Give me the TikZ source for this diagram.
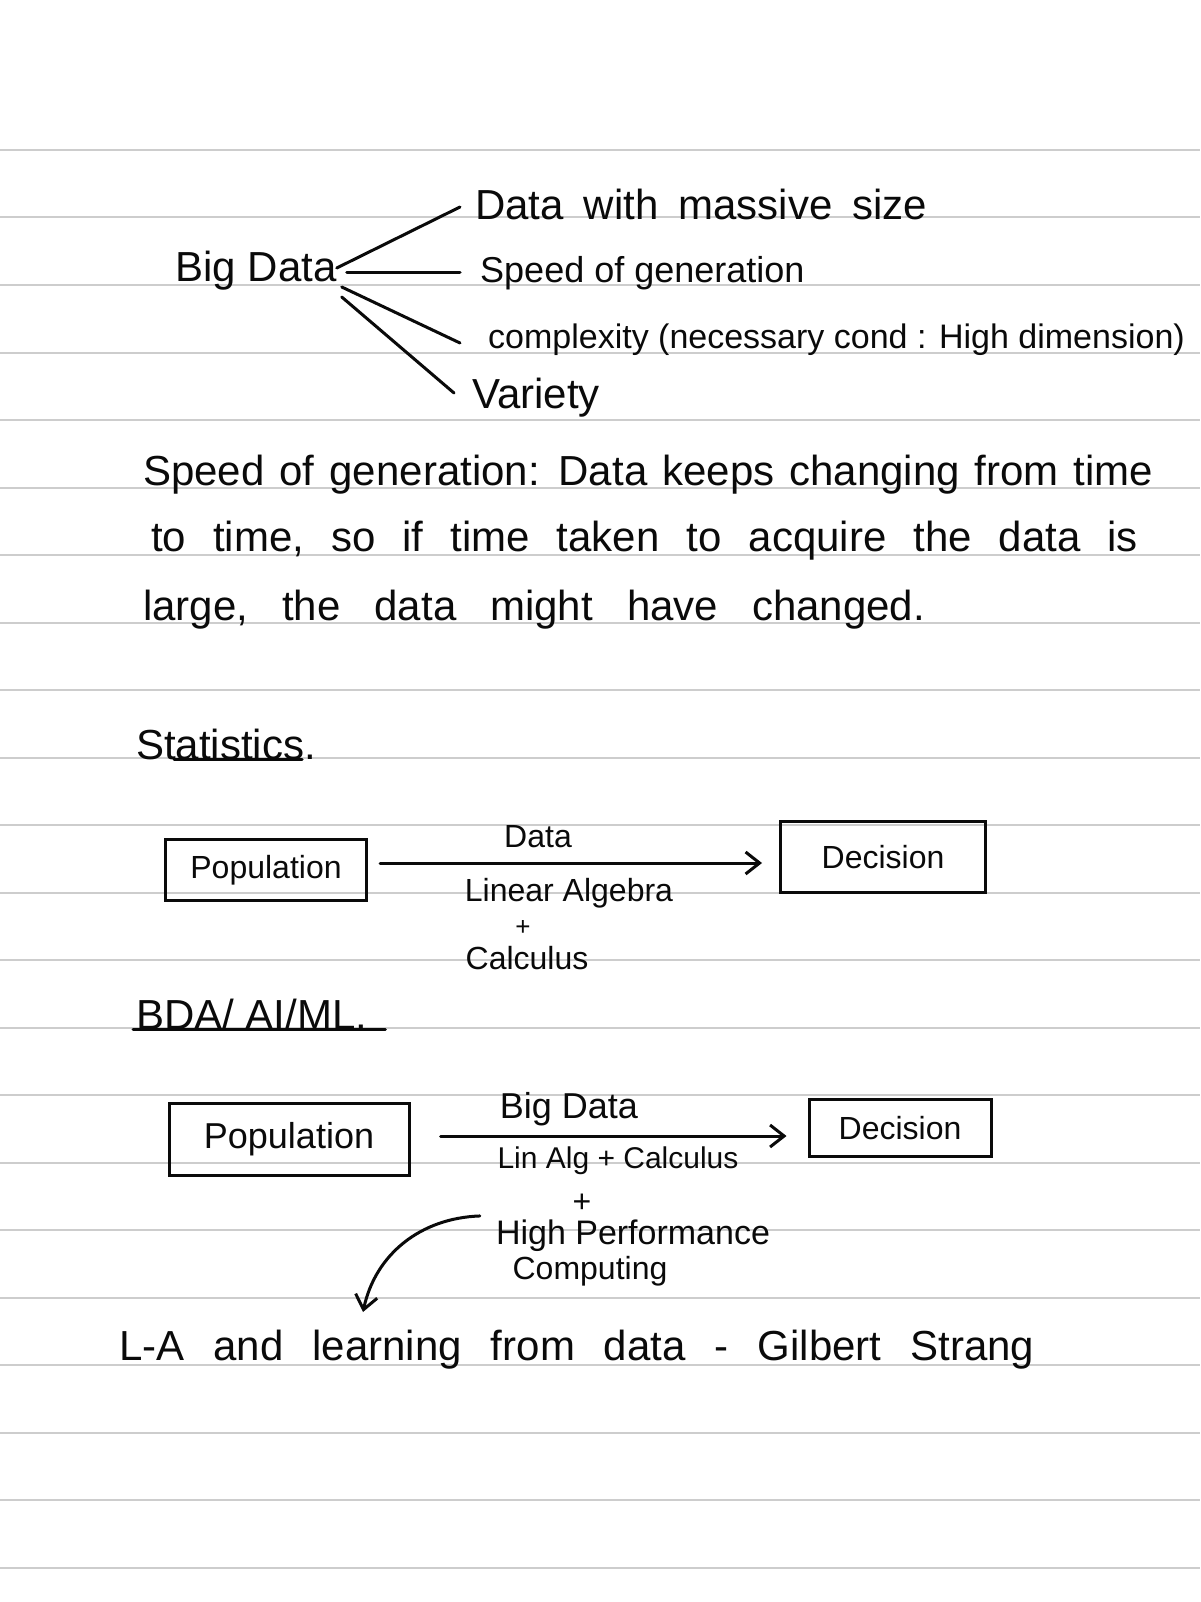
\documentclass[tikz,border=0pt]{standalone}
\usepackage{fontspec}
\setmainfont{Liberation Sans}
\usetikzlibrary{arrows.meta,positioning}
\definecolor{ruleline}{RGB}{205,205,205}
\definecolor{pen}{RGB}{10,10,10}
\tikzset{
    % Handwriting text styles
    hand/.style={font=\fontsize{42}{46}\selectfont, text=pen, inner sep=0pt, anchor=west},
    midhand/.style={font=\fontsize{32}{36}\selectfont, text=pen, inner sep=0pt},
    smallhand/.style={font=\fontsize{30}{34}\selectfont, text=pen, inner sep=0pt},
    % wider word gaps, as in the handwriting
    gaps/.style={execute at begin node={\spaceskip=#1\relax}},
    % Boxed terms
    box/.style={draw=pen, line width=3pt, inner sep=0pt, text=pen,
        font=\fontsize{32}{36}\selectfont},
}
\tikzset{
    % Pen strokes
    penline/.style={line width=3pt, pen, line cap=round},
    penarrow/.style={-{Straight Barb[length=14pt,width=22pt]}, line width=3pt, pen, line cap=round},
    ruling/.style={line width=2pt, ruleline},
}
\begin{document}
\begin{tikzpicture}[x=1pt,y=-1pt]
  \useasboundingbox (0,0) rectangle (1200,1602);
  \fill[white] (0,0) rectangle (1200,1602);
  % ruled paper
  \foreach \k in {0,...,21}{\draw[ruling] (0,150+67.5*\k) -- (1200,150+67.5*\k);}

  % Big Data tree
  \node[hand,anchor=center] (bd) at (256,271) {Big Data};
  \node[hand,gaps=20pt] (d1) at (475,204) {Data with massive size};
  \node[hand,font=\fontsize{36}{40}\selectfont] (d2) at (480,273) {Speed of generation};
  \node[midhand,anchor=west,font=\fontsize{34}{38}\selectfont] (d3) at (488,340) {complexity (necessary cond : High dimension)};
  \node[hand] (d4) at (472,398) {Variety};
  \draw[penline] ([yshift=3pt]bd.east) -- ([xshift=-15pt,yshift=-3pt]d1.west);
  \draw[penline] ([xshift=10pt,yshift=-2pt]bd.east) -- ([xshift=-20pt]d2.west);
  \draw[penline] ([xshift=5pt,yshift=-16pt]bd.east) -- ([xshift=-28pt,yshift=-3pt]d3.west);
  \draw[penline] ([xshift=5pt,yshift=-26pt]bd.east) -- ([xshift=-18pt,yshift=5pt]d4.west);

  % speed of generation note
  \node[hand,gaps=15pt] (p1) at (143,475) {Speed of generation: Data keeps changing from time};
  \node[hand,gaps=27pt] (p2) at (151,541) {to time, so if time taken to acquire the data is};
  \node[hand,gaps=34pt] (p3) at (143,610) {large, the data might have changed.};

  % Statistics
  \node[hand] (stat) at (136,744) {Statistics.};
  \draw[penline] ([xshift=38pt]stat.south west) -- ([xshift=-14pt]stat.south east);
  \node[box,minimum width=201pt,minimum height=61pt] (pop1) at (266,870) {Population};
  \node[box,minimum width=205pt,minimum height=71pt] (dec1) at (883,857) {Decision};
  \draw[penarrow] ([xshift=12pt,yshift=7pt]pop1.east) -- ([xshift=-17pt,yshift=-6pt]dec1.west);
  \node[midhand] (data1) at (538,837) {Data};
  \node[midhand] (la1) at (569,893) {Linear Algebra};
  \node[midhand,font=\fontsize{26}{30}\selectfont] (plus1) at (523,928) {+};
  \node[midhand] (calc1) at (527,958) {Calculus};

  % BDA / AI / ML
  \node[hand] (bda) at (136,1014) {BDA/ AI/ML.};
  \draw[penline] ([xshift=-3pt]bda.south west) -- ([xshift=18pt]bda.south east);
  \node[box,minimum width=240pt,minimum height=72pt,font=\fontsize{36}{40}\selectfont] (pop2) at (289,1139) {Population};
  \node[box,minimum width=182pt,minimum height=57pt] (dec2) at (900,1128) {Decision};
  \draw[penarrow] ([xshift=30pt,yshift=3pt]pop2.east) -- ([xshift=-21pt,yshift=-8pt]dec2.west);
  \node[midhand,font=\fontsize{36}{40}\selectfont] (bigd) at (569,1109) {Big Data};
  \node[smallhand] (lac) at (618,1161) {Lin Alg + Calculus};
  \node[midhand] (plus2) at (582,1203) {+};
  \node[midhand,font=\fontsize{34}{38}\selectfont] (hpc) at (633,1236) {High Performance};
  \node[midhand] (comp) at (590,1271) {Computing};

  % reference book
  \node[hand,gaps=29pt] (book) at (119,1350) {L-A and learning from data - Gilbert Strang};
  \coordinate (tip) at (363,1312);
  \draw[penarrow] ([xshift=-16pt,yshift=4pt]hpc.north west) to[out=182,in=78] (tip);
\end{tikzpicture}
\end{document}
